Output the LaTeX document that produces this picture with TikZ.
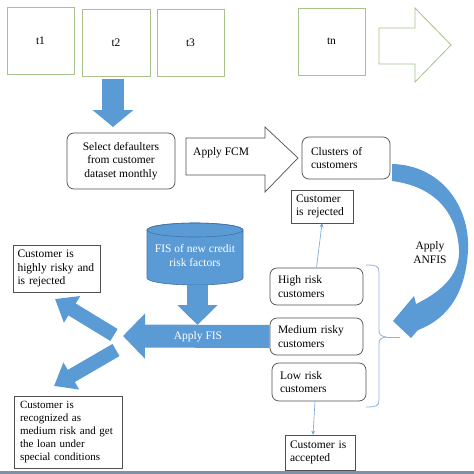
\documentclass[tikz,border=0pt]{standalone}
\usepackage{fontspec}
\setmainfont{Liberation Serif}
\usetikzlibrary{arrows.meta,calc}
\definecolor{tgreen}{RGB}{168,194,140}
\definecolor{bblue}{RGB}{91,155,213}
\definecolor{dblue}{RGB}{65,115,165}
\definecolor{lblue}{RGB}{115,165,215}
\definecolor{bracecol}{RGB}{145,180,215}
\definecolor{bgray}{RGB}{80,80,80}
\definecolor{bandcol}{RGB}{125,145,170}
\begin{document}
\begin{tikzpicture}[x=1pt,y=-1pt,font=\fontsize{11.5}{13.8}\selectfont,
  tbox/.style={draw=tgreen,line width=0.8pt,inner sep=0pt,minimum width=67pt,minimum height=67pt},
  rbox/.style={draw=bgray,line width=0.7pt,rounded corners=7pt,align=left,inner ysep=0pt},
  sbox/.style={draw=bgray,line width=0.6pt,align=left,inner ysep=0pt},
  thinarrow/.style={draw=lblue,line width=0.6pt,-{Stealth[length=4pt,width=4pt]}},
  blockarrow/.style={draw=bblue}]
\useasboundingbox (0,0) rectangle (474,474);
\fill[white] (0,0) rectangle (474,474);
\fill[bandcol] (0,471) rectangle (474,474);

% time boxes
\node[tbox] (t1) at (40.5,40.5) {t1};
\node[tbox,minimum width=68pt] (t2) at (116,42.5) {t2};
\node[tbox] (t3) at (190.5,42.5) {t3};
\node[tbox] (tn) at (331.5,41.5) {tn};
\draw[tgreen,line width=0.8pt] (379,28) -- (415,28) -- (415,8) -- (451,45) -- (415,82) -- (415,64) -- (379,64) -- cycle;

% select
\node[rbox,align=center,minimum width=108pt,minimum height=56pt] (sel) at (121,161) {Select defaulters\\from customer\\dataset monthly};
\coordinate (a1) at (113,79);
\coordinate (a1e) at (113,127);
\draw[blockarrow,line width=22pt,-{Triangle[width=40pt,length=17pt]}] (a1) -- (a1e);

% FCM arrow
\draw[bgray,line width=0.7pt] (186,138) -- (265,138) -- (265,127) -- (298,158) -- (265,192) -- (265,175) -- (186,175) -- cycle;
\node[anchor=west,inner sep=0pt] (fcm) at (193,153) {Apply FCM};

% clusters
\node[rbox,text width=70pt,inner xsep=9pt,minimum height=42pt] (clu) at (346,158) {Clusters of\\customers};

% rejected top
\node[sbox,text width=52pt,inner xsep=5pt,minimum height=33pt] (rej) at (322,206.5) {Customer\\is rejected};

% ANFIS curved arrow
\fill[bblue] (392,164) .. controls (440,165) and (470,205) .. (468,250)
  .. controls (466,290) and (450,318) .. (418,330) -- (411,338) -- (393,321) -- (414,296) -- (416,304)
  .. controls (445,290) and (460,272) .. (459,250)
  .. controls (457,210) and (432,186) .. (392,181) -- cycle;
\node[align=center,inner sep=0pt] (anfis) at (430,252.5) {Apply\\ANFIS};

% risk boxes
\node[rbox,text width=77pt,inner xsep=8pt,minimum height=37pt] (hr) at (316.5,286.5) {High risk\\customers};
\node[rbox,text width=77pt,inner xsep=8pt,minimum height=37pt] (mr) at (316.5,336.5) {Medium risky\\customers};
\node[rbox,text width=78pt,inner xsep=8pt,minimum height=38pt] (lr) at (319,382) {Low risk\\customers};

% brace
\draw[bracecol,line width=0.8pt] (366,265) .. controls (376,265) and (379,266) .. (379,272) -- (379,330)
  .. controls (379,335) and (381,336) .. (386,337) .. controls (381,338) and (379,339) .. (379,344)
  -- (379,400) .. controls (379,406) and (376,407) .. (366,407);
\draw[bracecol,line width=0.8pt] (386,337) -- (400,337);

% accepted
\node[sbox,text width=60pt,inner xsep=5pt,minimum height=35pt] (acc) at (320,452.5) {Customer is\\accepted};
\draw[thinarrow] (hr.north) -- (rej.south);
\draw[thinarrow] ($(lr.south)+(-4,0)$) -- ($(acc.north)+(-7,0)$);

% FIS cylinder
\filldraw[fill=bblue,draw=dblue,line width=0.6pt] (147,230) -- (147,278) arc[start angle=180,end angle=0,x radius=48,y radius=7] -- (243,230) arc[start angle=0,end angle=-180,x radius=48,y radius=7] -- cycle;
\draw[dblue,line width=0.6pt] (195,230) ellipse [x radius=48,y radius=7];
\node[align=center,text=white,inner sep=0pt,minimum width=96pt,minimum height=62pt] (fis) at (195,254) {\\[-2pt]FIS of new credit\\risk factors};
\coordinate (fise) at (197.5,325);
\draw[blockarrow,line width=21pt,-{Triangle[width=39pt,length=20pt]}] (197.5,285) -- (fise);

% apply FIS
\coordinate (fisl) at (123,336);
\draw[blockarrow,line width=23pt,-{Triangle[width=44pt,length=22pt]}] (mr.west) -- (fisl);
\node[text=white,inner sep=0pt] (afis) at (198,337) {Apply FIS};

% outcome boxes
\node[sbox,text width=78pt,inner xsep=4.5pt,minimum height=47pt] (hi) at (56.5,268.5) {Customer is\\highly risky and\\is rejected};
\node[sbox,font=\fontsize{11}{13}\selectfont,text width=102pt,inner xsep=3pt,minimum height=72pt] (med) at (68,432) {\hspace*{3pt}Customer is\\\hspace*{3pt}recognized as\\\hspace*{3pt}medium risk and get\\\hspace*{3pt}the loan under\\\hspace*{3pt}special conditions};

\coordinate (s1) at (114,335);
\coordinate (s1e) at (55,299);
\coordinate (s2) at (116,350);
\coordinate (s2e) at (54,386);
\draw[blockarrow,line width=14pt,-{Triangle[width=30pt,length=20pt]}] (s1) -- (s1e);
\draw[blockarrow,line width=14pt,-{Triangle[width=30pt,length=20pt]}] (s2) -- (s2e);
\end{tikzpicture}
\end{document}
